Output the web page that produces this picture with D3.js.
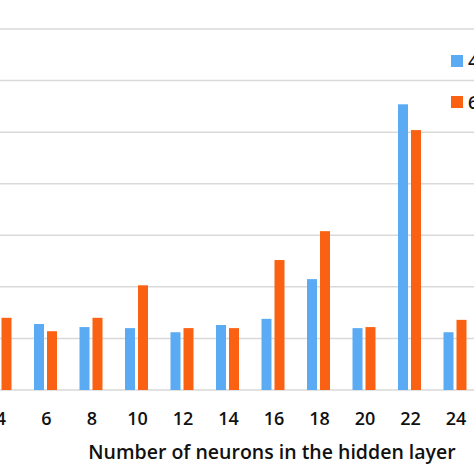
<!DOCTYPE html>
<html>
<head>
<meta charset="utf-8">
<script src="https://cdn.jsdelivr.net/npm/d3@7"></script>
<style>
  body { margin: 0; background: #fff; }
  svg { display: block; }
</style>
</head>
<body>
<script>
const neurons = [4, 6, 8, 10, 12, 14, 16, 18, 20, 22, 24];
const seriesA = [1.30, 1.28, 1.22, 1.20, 1.12, 1.26, 1.38, 2.15, 1.20, 5.54, 1.12];
const seriesB = [1.40, 1.14, 1.40, 2.03, 1.20, 1.20, 2.52, 3.08, 1.22, 5.04, 1.36];
const seriesNames = ["4 inputs", "6 inputs"];
const colors = ["#5aabf4", "#fb6112"];
const gridTicks = [0, 1, 2, 3, 4, 5, 6, 7];

const width = 474, height = 474;
const svg = d3.select("body").append("svg")
  .attr("width", width).attr("height", height);

const x = d3.scaleLinear().domain([4, 24]).range([0.5, 455.5]);
const y = d3.scaleLinear().domain([0, 7]).range([390, 29]);

svg.append("g").selectAll("line")
  .data(gridTicks)
  .join("line")
  .attr("x1", 0).attr("x2", width)
  .attr("y1", d => y(d)).attr("y2", d => y(d))
  .attr("stroke", "#d9d9d9").attr("stroke-width", 1.5);

const barW = 10;
[seriesA, seriesB].forEach((vals, s) => {
  svg.append("g").selectAll("rect")
    .data(vals)
    .join("rect")
    .attr("x", (d, i) => x(neurons[i]) + (s === 0 ? -12 : 1))
    .attr("y", d => y(d))
    .attr("width", barW)
    .attr("height", d => y(0) - y(d))
    .attr("fill", colors[s]);
});

const xAxis = d3.axisBottom(x).tickValues(neurons).tickSize(0).tickPadding(0);
const ax = svg.append("g").attr("transform", "translate(0,425)").call(xAxis);
ax.select(".domain").remove();
ax.selectAll("text")
  .attr("dy", 0)
  .attr("font-family", "Open Sans, sans-serif")
  .attr("font-size", 18).attr("font-weight", 600)
  .attr("fill", "#111");

svg.append("text")
  .attr("x", 272).attr("y", 459)
  .attr("text-anchor", "middle")
  .attr("font-family", "Open Sans, sans-serif")
  .attr("font-size", 19.5).attr("font-weight", 600)
  .attr("fill", "#111")
  .text("Number of neurons in the hidden layer");

const legend = svg.append("g").selectAll("g")
  .data(seriesNames)
  .join("g")
  .attr("transform", (d, i) => `translate(451,${55 + i * 41})`);
legend.append("rect").attr("width", 12).attr("height", 12)
  .attr("fill", (d, i) => colors[i]);
legend.append("text")
  .attr("x", 17).attr("y", 13)
  .attr("font-family", "Open Sans, sans-serif")
  .attr("font-size", 18).attr("font-weight", 600)
  .attr("fill", "#111")
  .text(d => d);
</script>
</body>
</html>
